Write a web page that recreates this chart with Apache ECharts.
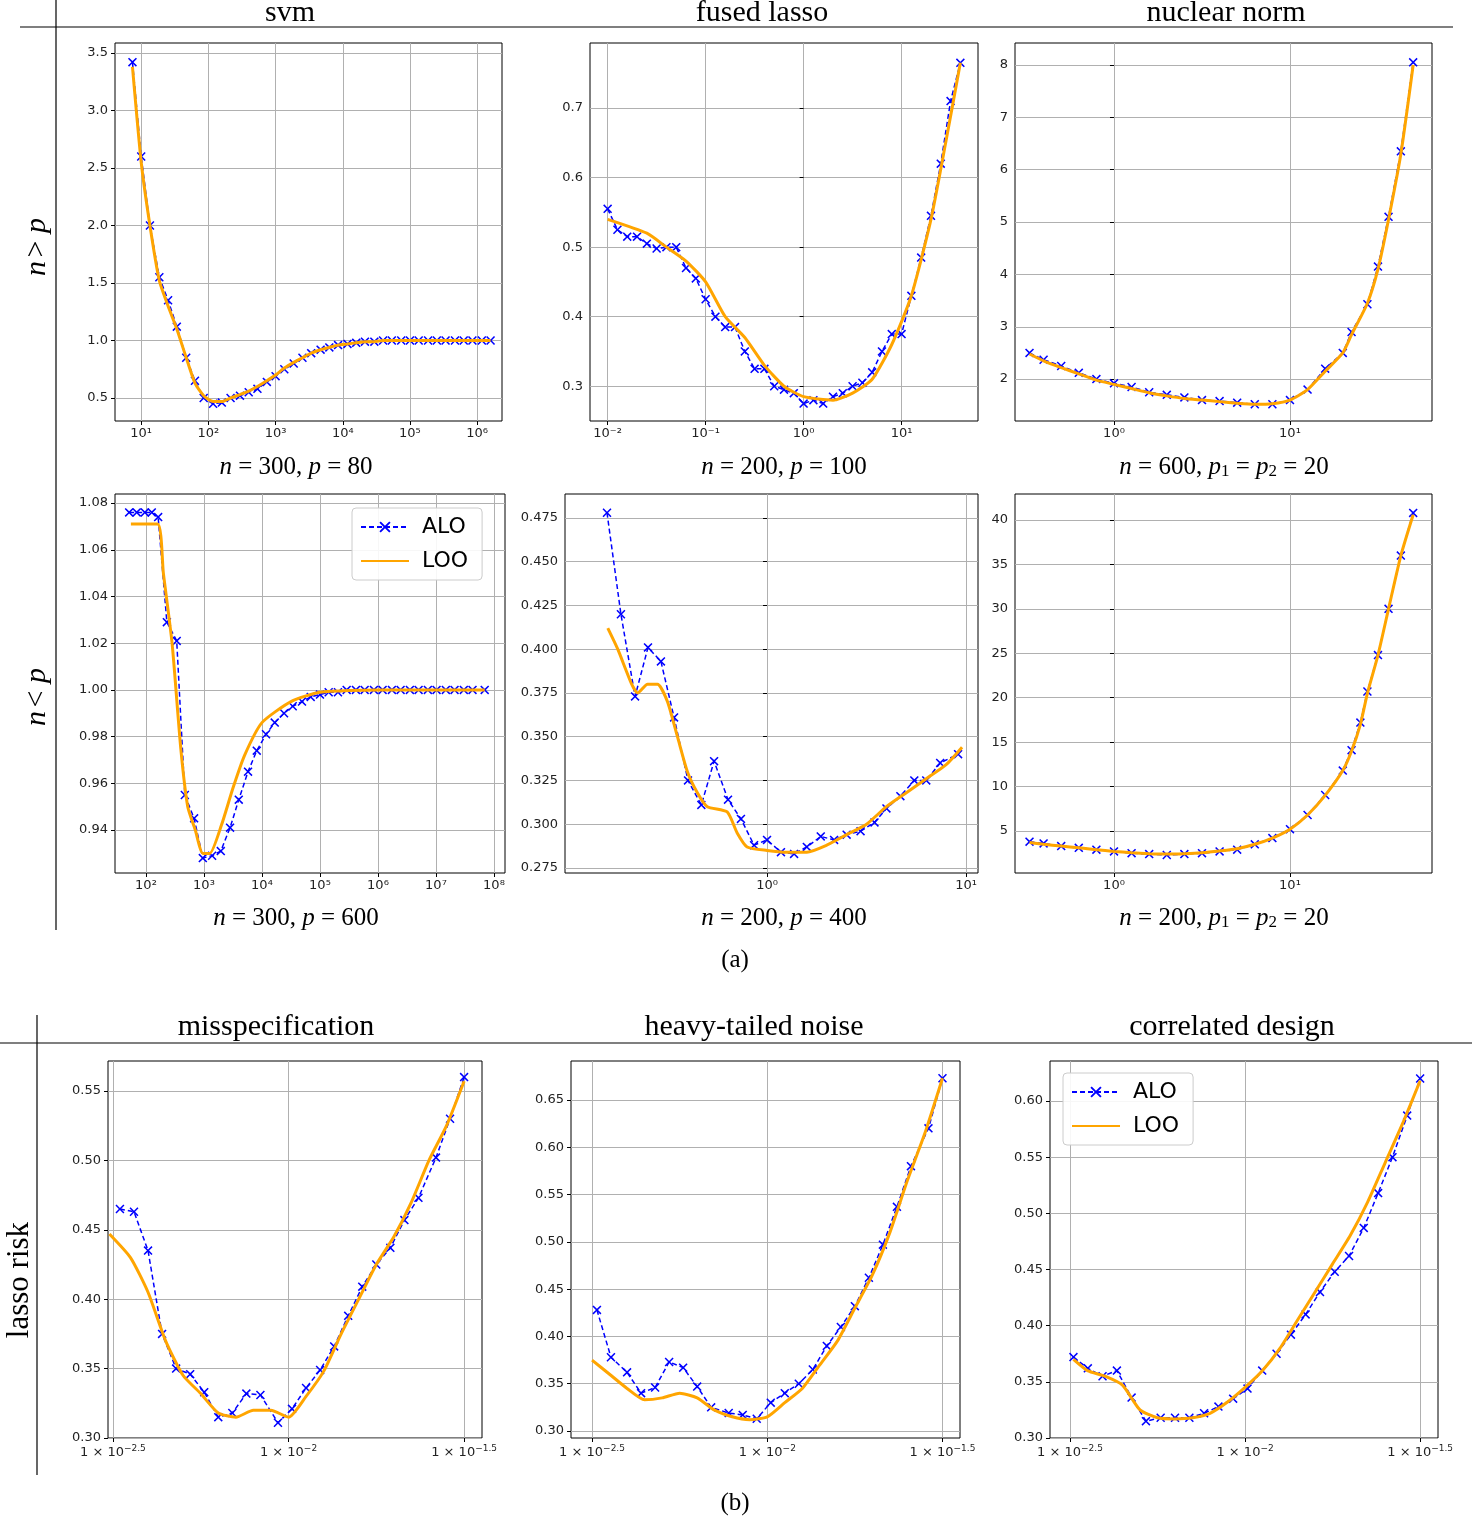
<!DOCTYPE html>
<html><head><meta charset="utf-8">
<script src="https://cdn.jsdelivr.net/npm/echarts@6/dist/echarts.min.js"></script>
<style>html,body{margin:0;padding:0;background:#fff}#c{width:1474px;height:1520px}</style>
</head><body><div id="c"></div>
<script>
// ---------- data (x values are log10 of the regularisation parameter) ----------
const svm1X = [0.87,1.0,1.13,1.27,1.4,1.53,1.67,1.8,1.93,2.07,2.2,2.33,2.47,2.6,2.73,2.87,3.0,3.13,3.27,3.4,3.53,3.67,3.8,3.93,4.07,4.2,4.33,4.47,4.6,4.73,4.87,5.0,5.13,5.27,5.4,5.53,5.67,5.8,5.93,6.07,6.2];
const svm1Alo = [3.42,2.6,2.0,1.55,1.35,1.12,0.85,0.65,0.5,0.45,0.46,0.5,0.52,0.55,0.58,0.64,0.69,0.75,0.8,0.85,0.89,0.92,0.94,0.96,0.97,0.98,0.99,0.99,1.0,1.0,1.0,1.0,1.0,1.0,1.0,1.0,1.0,1.0,1.0,1.0,1.0];
const svm1Loo = [3.38,2.55,2.0,1.52,1.3,1.1,0.85,0.63,0.52,0.47,0.47,0.5,0.53,0.56,0.6,0.65,0.7,0.76,0.81,0.85,0.89,0.92,0.94,0.96,0.97,0.98,0.99,0.99,1.0,1.0,1.0,1.0,1.0,1.0,1.0,1.0,1.0,1.0,1.0,1.0,1.0];

const fl1X = [-2.0,-1.9,-1.8,-1.7,-1.6,-1.5,-1.4,-1.3,-1.2,-1.1,-1.0,-0.9,-0.8,-0.7,-0.6,-0.5,-0.4,-0.3,-0.2,-0.1,0.0,0.1,0.2,0.3,0.4,0.5,0.6,0.7,0.8,0.9,1.0,1.1,1.2,1.3,1.4,1.5,1.6];
const fl1Alo = [0.555,0.525,0.515,0.515,0.505,0.498,0.50,0.50,0.47,0.455,0.425,0.40,0.385,0.385,0.35,0.325,0.325,0.30,0.295,0.29,0.275,0.28,0.275,0.285,0.29,0.30,0.305,0.32,0.35,0.375,0.375,0.43,0.485,0.545,0.62,0.71,0.765];
const fl1LooX = [-2.0,-1.6,-1.4,-1.2,-1.0,-0.8,-0.6,-0.4,-0.2,0.0,0.3,0.5,0.7,0.9,1.1,1.3,1.45,1.6];
const fl1Loo = [0.54,0.52,0.50,0.48,0.45,0.40,0.37,0.33,0.30,0.285,0.28,0.29,0.31,0.36,0.43,0.54,0.65,0.765];

const nn1X = [-0.48,-0.4,-0.3,-0.2,-0.1,0.0,0.1,0.2,0.3,0.4,0.5,0.6,0.7,0.8,0.9,1.0,1.1,1.2,1.3,1.35,1.44,1.5,1.56,1.63,1.7];
const nn1Alo = [2.5,2.37,2.25,2.12,2.0,1.92,1.85,1.75,1.7,1.65,1.6,1.58,1.55,1.52,1.52,1.6,1.8,2.2,2.5,2.9,3.43,4.15,5.1,6.35,8.05];
const nn1Loo = [2.48,2.35,2.22,2.1,1.98,1.9,1.82,1.74,1.68,1.63,1.6,1.57,1.54,1.52,1.53,1.6,1.8,2.15,2.5,2.85,3.45,4.1,5.05,6.3,8.0];

const svm2X = [1.71,1.84,1.98,2.1,2.21,2.36,2.53,2.67,2.83,2.98,3.14,3.29,3.45,3.6,3.76,3.91,4.07,4.22,4.38,4.53,4.69,4.84,5.0,5.15,5.31,5.46,5.62,5.77,5.93,6.08,6.24,6.39,6.55,6.7,6.86,7.01,7.17,7.32,7.48,7.63,7.84];
const svm2Alo = [1.076,1.076,1.076,1.076,1.074,1.029,1.021,0.955,0.945,0.928,0.929,0.931,0.941,0.953,0.965,0.974,0.981,0.986,0.990,0.993,0.995,0.997,0.998,0.999,0.999,1.0,1.0,1.0,1.0,1.0,1.0,1.0,1.0,1.0,1.0,1.0,1.0,1.0,1.0,1.0,1.0];
const svm2LooX = [1.74,2.2,2.3,2.45,2.6,2.72,2.85,2.98,3.1,3.3,3.5,3.7,4.0,4.5,5,6,7.84];
const svm2Loo = [1.071,1.071,1.05,1.02,0.975,0.95,0.94,0.93,0.93,0.942,0.958,0.972,0.986,0.995,0.999,1.0,1.0];

const fl2X = [-0.804,-0.734,-0.663,-0.598,-0.533,-0.467,-0.397,-0.33,-0.266,-0.196,-0.131,-0.065,0.0,0.07,0.136,0.2,0.27,0.337,0.40,0.47,0.54,0.6,0.67,0.74,0.80,0.87,0.96];
const fl2Alo = [0.478,0.42,0.373,0.401,0.393,0.361,0.325,0.311,0.336,0.314,0.303,0.288,0.291,0.284,0.283,0.287,0.293,0.291,0.294,0.296,0.301,0.309,0.316,0.325,0.325,0.335,0.340];
const fl2LooX = [-0.8,-0.75,-0.68,-0.65,-0.6,-0.55,-0.5,-0.45,-0.4,-0.35,-0.3,-0.2,-0.15,-0.1,0,0.1,0.2,0.3,0.4,0.5,0.6,0.7,0.8,0.9,0.98];
const fl2Loo = [0.412,0.40,0.38,0.375,0.38,0.38,0.37,0.35,0.33,0.318,0.31,0.307,0.295,0.287,0.285,0.284,0.284,0.288,0.294,0.30,0.31,0.318,0.326,0.334,0.344];

const nn2X = [-0.48,-0.4,-0.3,-0.2,-0.1,0.0,0.1,0.2,0.3,0.4,0.5,0.6,0.7,0.8,0.9,1.0,1.1,1.2,1.3,1.35,1.4,1.44,1.5,1.56,1.63,1.7];
const nn2Alo = [3.8,3.6,3.3,3.1,2.9,2.7,2.5,2.4,2.3,2.4,2.5,2.7,2.9,3.5,4.2,5.2,6.8,9.05,11.8,14.1,17.2,20.7,24.8,30,36,40.8];
const nn2Loo = [3.7,3.5,3.3,3.1,2.9,2.7,2.55,2.45,2.4,2.45,2.55,2.75,3.0,3.5,4.2,5.2,6.8,9.0,11.8,14.0,17.0,20.5,24.8,30,36,40.6];

const misX = [-2.48,-2.44,-2.40,-2.36,-2.32,-2.28,-2.24,-2.20,-2.16,-2.12,-2.08,-2.03,-1.99,-1.95,-1.91,-1.87,-1.83,-1.79,-1.75,-1.71,-1.67,-1.63,-1.58,-1.54,-1.5];
const misAlo = [0.465,0.463,0.435,0.375,0.35,0.346,0.333,0.315,0.318,0.332,0.331,0.311,0.321,0.336,0.349,0.366,0.388,0.409,0.425,0.437,0.457,0.473,0.502,0.53,0.56];
const misLooX = [-2.51,-2.45,-2.4,-2.35,-2.3,-2.25,-2.2,-2.15,-2.1,-2.05,-2.0,-1.95,-1.9,-1.85,-1.8,-1.75,-1.7,-1.65,-1.6,-1.55,-1.5];
const misLoo = [0.447,0.43,0.405,0.37,0.345,0.332,0.318,0.315,0.32,0.32,0.315,0.33,0.348,0.375,0.40,0.425,0.445,0.47,0.5,0.525,0.557];

const htX = [-2.486,-2.446,-2.40,-2.36,-2.32,-2.28,-2.24,-2.2,-2.16,-2.11,-2.07,-2.03,-1.99,-1.95,-1.91,-1.87,-1.83,-1.79,-1.75,-1.71,-1.67,-1.63,-1.59,-1.54,-1.5];
const htAlo = [0.428,0.378,0.362,0.34,0.346,0.373,0.367,0.347,0.325,0.319,0.317,0.313,0.33,0.34,0.35,0.365,0.39,0.41,0.432,0.462,0.497,0.537,0.58,0.62,0.673];
const htLooX = [-2.5,-2.45,-2.4,-2.35,-2.3,-2.25,-2.2,-2.15,-2.1,-2.05,-2.0,-1.95,-1.9,-1.85,-1.8,-1.75,-1.7,-1.65,-1.6,-1.55,-1.5];
const htLoo = [0.375,0.36,0.345,0.333,0.335,0.34,0.335,0.322,0.315,0.312,0.315,0.33,0.345,0.37,0.395,0.43,0.465,0.51,0.565,0.615,0.673];

const cdX = [-2.49,-2.449,-2.407,-2.366,-2.324,-2.283,-2.241,-2.2,-2.159,-2.117,-2.076,-2.034,-1.993,-1.951,-1.91,-1.869,-1.827,-1.786,-1.744,-1.703,-1.661,-1.62,-1.579,-1.537,-1.5];
const cdAlo = [0.372,0.362,0.355,0.36,0.336,0.315,0.318,0.318,0.318,0.322,0.328,0.335,0.344,0.36,0.375,0.392,0.41,0.43,0.448,0.462,0.487,0.518,0.55,0.587,0.62];
const cdLooX = [-2.49,-2.45,-2.4,-2.35,-2.3,-2.25,-2.2,-2.15,-2.1,-2.05,-2.0,-1.95,-1.9,-1.85,-1.8,-1.75,-1.7,-1.65,-1.6,-1.55,-1.5];
const cdLoo = [0.37,0.36,0.355,0.347,0.325,0.318,0.317,0.318,0.322,0.332,0.345,0.36,0.38,0.405,0.43,0.455,0.48,0.51,0.545,0.58,0.618];

// tick values (1e-9 stands for the 10^0 tick)
const svm1XTicks=[1,2,3,4,5,6], svm1YTicks=[0.5,1.0,1.5,2.0,2.5,3.0,3.5];
const fl1XTicks=[-2,-1,1e-9,1], fl1YTicks=[0.3,0.4,0.5,0.6,0.7];
const nnXTicks=[1e-9,1], nn1YTicks=[2,3,4,5,6,7,8];
const svm2XTicks=[2,3,4,5,6,7,8], svm2YTicks=[0.94,0.96,0.98,1.00,1.02,1.04,1.06,1.08];
const fl2XTicks=[1e-9,1], fl2YTicks=[0.275,0.3,0.325,0.35,0.375,0.4,0.425,0.45,0.475];
const nn2YTicks=[5,10,15,20,25,30,35,40];
const bXTicks=[-2.5,-2,-1.5];
const misYTicks=[0.30,0.35,0.40,0.45,0.50,0.55];
const htYTicks=[0.30,0.35,0.40,0.45,0.50,0.55,0.60,0.65];
const cdYTicks=[0.30,0.35,0.40,0.45,0.50,0.55,0.60];

// ---------- chart ----------
const SUP={'-':'⁻','0':'⁰','1':'¹','2':'²','3':'³','4':'⁴','5':'⁵','6':'⁶','7':'⁷','8':'⁸','9':'⁹'};
const powLabel=v=>'10'+String(Math.round(v)).split('').map(c=>SUP[c]).join('');
const halfLabel=v=>'{a|1 × 10}{s|'+(v<0?'−':'')+Math.abs(v)+'}';
const cross='path://M0,1.2L1.2,0L5,3.8L8.8,0L10,1.2L6.2,5L10,8.8L8.8,10L5,6.2L1.2,10L0,8.8L3.8,5Z';
const pair=(xs,ys)=>xs.map((x,i)=>[x,ys[i]]);

const panels=[
 {box:[115,43,387,378],x:[0.61,6.37],y:[0.3,3.587],xt:svm1XTicks,yt:svm1YTicks,yd:1,xf:powLabel,alo:pair(svm1X,svm1Alo),loo:pair(svm1X,svm1Loo)},
 {box:[590,43,388,378],x:[-2.18,1.78],y:[0.25,0.7935],xt:fl1XTicks,yt:fl1YTicks,yd:1,xf:powLabel,alo:pair(fl1X,fl1Alo),loo:pair(fl1LooX,fl1Loo)},
 {box:[1015,43,417,378],x:[-0.5625,1.807],y:[1.2,8.42],xt:nnXTicks,yt:nn1YTicks,yd:0,xf:powLabel,alo:pair(nn1X,nn1Alo),loo:pair(nn1X,nn1Loo)},
 {box:[115,494,390,379],x:[1.466,8.19],y:[0.9216,1.0839],xt:svm2XTicks,yt:svm2YTicks,yd:2,xf:powLabel,alo:pair(svm2X,svm2Alo),loo:pair(svm2LooX,svm2Loo)},
 {box:[565,494,413,379],x:[-1.015,1.06],y:[0.2721,0.4887],xt:fl2XTicks,yt:fl2YTicks,yd:3,xf:powLabel,alo:pair(fl2X,fl2Alo),loo:pair(fl2LooX,fl2Loo)},
 {box:[1015,494,417,379],x:[-0.5625,1.807],y:[0.27,42.93],xt:nnXTicks,yt:nn2YTicks,yd:0,xf:powLabel,alo:pair(nn2X,nn2Alo),loo:pair(nn2X,nn2Loo)},
 {box:[108,1061,374,377],x:[-2.514,-1.449],y:[0.3,0.5716],xt:bXTicks,yt:misYTicks,yd:2,xf:halfLabel,alo:pair(misX,misAlo),loo:pair(misLooX,misLoo)},
 {box:[571,1061,389,377],x:[-2.56,-1.45],y:[0.2926,0.6912],xt:bXTicks,yt:htYTicks,yd:2,xf:halfLabel,alo:pair(htX,htAlo),loo:pair(htLooX,htLoo)},
 {box:[1050,1061,388,377],x:[-2.557,-1.449],y:[0.30,0.6356],xt:bXTicks,yt:cdYTicks,yd:2,xf:halfLabel,alo:pair(cdX,cdAlo),loo:pair(cdLooX,cdLoo)}
];

const grid=[],xAxis=[],yAxis=[],series=[];
const lab={fontFamily:'DejaVu Sans',fontSize:13,color:'#222'};
panels.forEach((p,i)=>{
  grid.push({left:p.box[0],top:p.box[1],width:p.box[2],height:p.box[3],show:true,borderColor:'#000',borderWidth:1,backgroundColor:'#fff'});
  const split={show:true,lineStyle:{color:'#b0b0b0',width:1}};
  xAxis.push({type:'value',gridIndex:i,min:p.x[0],max:p.x[1],
    axisLine:{show:false},axisTick:{show:true,length:4,customValues:p.xt,lineStyle:{color:'#000'}},
    splitLine:split,
    axisLabel:Object.assign({customValues:p.xt,margin:6,formatter:p.xf,
      rich:{a:{fontFamily:'DejaVu Sans',fontSize:13,color:'#222'},s:{fontFamily:'DejaVu Sans',fontSize:9,color:'#222',padding:[0,0,9,0]}}},lab)});
  yAxis.push({type:'value',gridIndex:i,min:p.y[0],max:p.y[1],
    axisLine:{show:false},axisTick:{show:true,length:4,customValues:p.yt,lineStyle:{color:'#000'}},
    splitLine:split,
    axisLabel:Object.assign({customValues:p.yt,margin:7,formatter:v=>v.toFixed(p.yd)},lab)});
  series.push({name:'ALO',type:'line',xAxisIndex:i,yAxisIndex:i,data:p.alo,symbol:cross,symbolSize:9,
    itemStyle:{color:'#0000ff'},lineStyle:{color:'#0000ff',width:1.5,type:[5,3]},z:2,animation:false});
  series.push({name:'LOO',type:'line',xAxisIndex:i,yAxisIndex:i,data:p.loo,showSymbol:false,symbol:'none',smooth:0.2,
    lineStyle:{color:'#ffa500',width:3},itemStyle:{color:'#ffa500'},z:3,animation:false});
});

const legendStyle=(left,top)=>({left,top,orient:'vertical',
  data:[{name:'ALO'},{name:'LOO',itemStyle:{opacity:0}}],itemWidth:48,itemHeight:14,itemGap:12,
  padding:[8,14,8,8],backgroundColor:'rgba(255,255,255,0.9)',borderColor:'#ccc',borderWidth:1,borderRadius:4,
  textStyle:{fontFamily:'DejaVu Sans',fontSize:22,color:'#000',padding:[0,0,0,8]},selectedMode:false});

const serif='Liberation Serif';
const T=(x,y,text,size,extra)=>Object.assign({type:'text',x,y,style:{text,font:(size||30)+'px "'+serif+'"',fill:'#000',align:'center',verticalAlign:'middle'}},extra||{});
const richX=(x,y,text)=>({type:'text',x,y,style:{text,align:'center',verticalAlign:'middle',fill:'#000',
  rich:{r:{fontFamily:serif,fontSize:25},i:{fontFamily:serif,fontSize:25,fontStyle:'italic'},s:{fontFamily:serif,fontSize:17,padding:[10,0,0,0]}}}});
const L=(x1,y1,x2,y2)=>({type:'line',shape:{x1,y1,x2,y2},style:{stroke:'#000',lineWidth:1.2}});

const graphic=[
  L(20,27,1453,27),L(56,0,56,930),
  T(290,13,'svm'),T(762,13,'fused lasso'),T(1226,13,'nuclear norm'),
  {type:'text',x:37,y:247,rotation:Math.PI/2,style:{text:'{i|n} {r|> }{i|p}',align:'center',verticalAlign:'middle',rich:{r:{fontFamily:serif,fontSize:30},i:{fontFamily:serif,fontSize:30,fontStyle:'italic'}}}},
  {type:'text',x:37,y:697,rotation:Math.PI/2,style:{text:'{i|n} {r|< }{i|p}',align:'center',verticalAlign:'middle',rich:{r:{fontFamily:serif,fontSize:30},i:{fontFamily:serif,fontSize:30,fontStyle:'italic'}}}},
  richX(296,467,'{i|n}{r| = 300, }{i|p}{r| = 80}'),
  richX(784,467,'{i|n}{r| = 200, }{i|p}{r| = 100}'),
  richX(1224,467,'{i|n}{r| = 600, }{i|p}{s|1}{r| = }{i|p}{s|2}{r| = 20}'),
  richX(296,918,'{i|n}{r| = 300, }{i|p}{r| = 600}'),
  richX(784,918,'{i|n}{r| = 200, }{i|p}{r| = 400}'),
  richX(1224,918,'{i|n}{r| = 200, }{i|p}{s|1}{r| = }{i|p}{s|2}{r| = 20}'),
  T(735,960,'(a)',25),
  L(0,1043,1472,1043),L(37,1015,37,1475),
  T(276,1027,'misspecification'),T(754,1027,'heavy-tailed noise'),T(1232,1027,'correlated design'),
  T(20,1280,'lasso risk',31,{rotation:Math.PI/2}),
  T(735,1503,'(b)',25)
];

const chart=echarts.init(document.getElementById('c'),null,{renderer:'canvas'});
chart.setOption({animation:false,backgroundColor:'#fff',grid,xAxis,yAxis,series,
  legend:[legendStyle(352,508),legendStyle(1063,1073)],graphic});
</script></body></html>
